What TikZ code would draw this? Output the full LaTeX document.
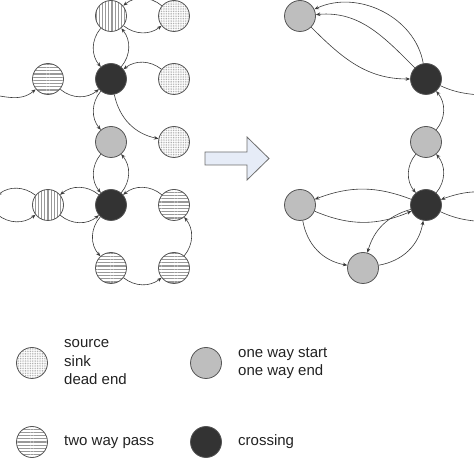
\documentclass[tikz,border=0pt]{standalone}
\usepackage{fontspec}
\setmainfont{Liberation Sans}
\usetikzlibrary{arrows.meta,patterns.meta}
\definecolor{ncol}{HTML}{555555}
\definecolor{ecol}{HTML}{3A3A3A}
\definecolor{grayfill}{HTML}{BEBEBE}
\definecolor{blackfill}{HTML}{333333}
\definecolor{arrfill}{HTML}{E6ECF7}
\definecolor{arrline}{HTML}{6E6E6E}
\definecolor{txt}{HTML}{222222}
\begin{document}
\begin{tikzpicture}[x=1pt,y=1pt,
 nd/.style={circle,draw=ncol,line width=0.8pt,minimum size=31pt,inner sep=0pt},
 dotn/.style={nd,preaction={fill=white},pattern={Dots[distance=1.7pt,radius=0.5pt]},pattern color=gray!75},
 grayn/.style={nd,fill=grayfill},
 crossn/.style={nd,fill=blackfill},
 hstr/.style={nd,preaction={fill=white},pattern={Lines[angle=0,distance=3.2pt,line width=1.3pt]},pattern color=gray!80},
 vstr/.style={nd,preaction={fill=white},pattern={Lines[angle=90,distance=3.2pt,line width=1.3pt]},pattern color=gray!80},
 ghost/.style={circle,minimum size=31pt,inner sep=0pt},
 ed/.style={-{Stealth[length=4.5pt,width=3.6pt]},line width=0.6pt,draw=ecol},
 lab/.style={anchor=west,inner sep=0pt,align=left,text=txt,font=\fontsize{15}{18.5}\selectfont}
]
\useasboundingbox (0,0) rectangle (474,474);
% left graph
\node[vstr]  (A) at (111,458) {};
\node[dotn]  (B) at (174,458) {};
\node[hstr]  (C) at (48,395) {};
\node[crossn](D) at (111,395) {};
\node[dotn]  (E) at (174,395) {};
\node[grayn] (F) at (111,332) {};
\node[dotn]  (G) at (174,332) {};
\node[vstr]  (H) at (48,269) {};
\node[crossn](I) at (111,269) {};
\node[hstr]  (J) at (174,269) {};
\node[hstr]  (K) at (111,206) {};
\node[hstr]  (L) at (174,206) {};
\coordinate (cl) at (-20,381);
\node[ghost] (hl) at (-15,269) {};

\draw[ed] (cl) to[out=-5,in=220] (C);
\draw[ed] (C) to[bend right=40] (D);
\draw[ed] (A) to[bend right=40] (D);
\draw[ed] (D) to[bend right=40] (A);
\draw[ed] (B) to[bend right=40] (A);
\draw[ed] (A) to[bend right=38] (B);
\draw[ed] (E) to[bend right=38] (D);
\draw[ed] (D) to[bend right=33] (G);
\draw[ed] (D) to[bend right=40] (F);
\draw[ed] (F) to[bend right=40] (I);
\draw[ed] (I) to[bend right=40] (F);
\draw[ed] (I) to[bend right=40] (H);
\draw[ed] (H) to[bend right=40] (I);
\draw[ed] (H) to[bend right=38] (hl);
\draw[ed] (hl) to[bend right=38] (H);
\draw[ed] (J) to[bend right=40] (I);
\draw[ed] (I) to[bend right=42] (K);
\draw[ed] (K) to[bend right=38] (L);
\draw[ed] (L) to[bend right=40] (J);

% block arrow
\draw[fill=arrfill,draw=arrline,line width=0.8pt]
  (205,309) -- (247,309) -- (247,294) -- (269,315.5) -- (247,337) -- (247,322) -- (205,322) -- cycle;

% right graph
\node[grayn] (P1) at (300,458) {};
\node[crossn](X1) at (426,395) {};
\node[grayn] (P2) at (426,332) {};
\node[crossn](X2) at (426,269) {};
\node[grayn] (P3) at (300,269) {};
\node[grayn] (P4) at (363,206) {};
\coordinate (xr1) at (497,377);
\coordinate (xr2a) at (500,280);
\coordinate (xr2b) at (500,251);

\draw[ed] (X1) to[out=100,in=25] (P1);
\draw[ed] (X1) to[out=135,in=5] (P1);
\draw[ed] (P1) to[out=-45,in=180] (X1);
\draw[ed] (X1) to[out=-25,in=172] (xr1);
\draw[ed] (P2) to[bend right=40] (X1);
\draw[ed] (P2) to[bend right=40] (X2);
\draw[ed] (X2) to[bend right=40] (P2);
\draw[ed] (xr2a) to[out=170,in=20] (X2);
\draw[ed] (X2) to[out=-25,in=175] (xr2b);
\draw[ed] (X2) to[bend right=21] (P3);
\draw[ed] (P3) to[bend right=23] (X2);
\draw[ed] (P3) to[bend right=35] (P4);
\draw[ed] (X2) to[bend right=29] (P4);
\draw[ed] (P4) to[bend right=35] (X2);

% legend
\node[dotn]  (l1) at (32,111) {};
\node[lab]   (t1) at (64,111.5) {source\\sink\\dead end};
\node[grayn] (l2) at (206,111) {};
\node[lab]   (t2) at (238,111) {one way start\\one way end};
\node[hstr]  (l3) at (32,32) {};
\node[lab]   (t3) at (64,32) {two way pass};
\node[crossn](l4) at (206,32) {};
\node[lab]   (t4) at (238,32) {crossing};
\end{tikzpicture}
\end{document}
